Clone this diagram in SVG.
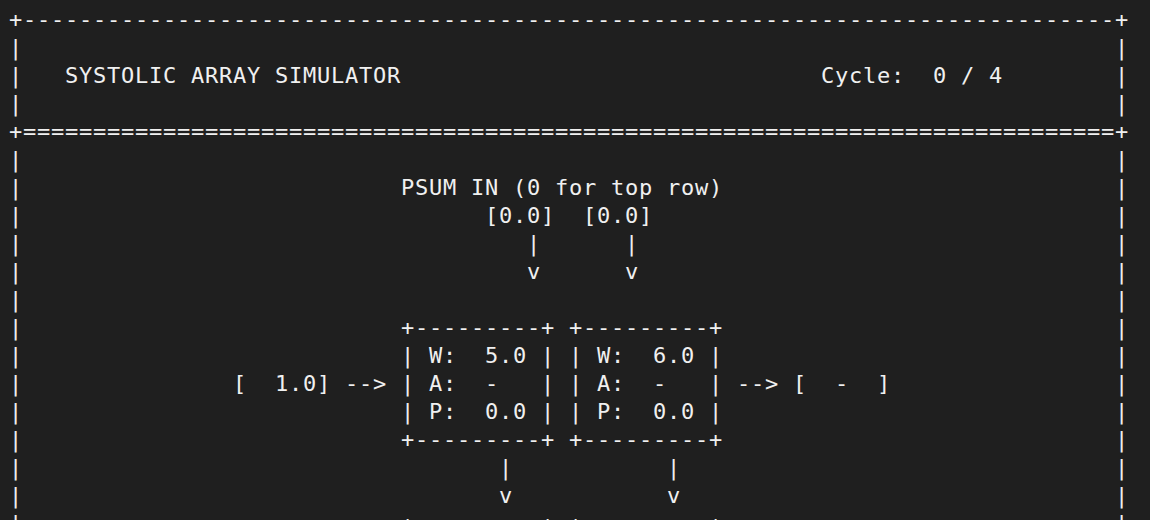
<svg xmlns="http://www.w3.org/2000/svg" width="1150" height="520" viewBox="0 0 1150 520">
<style>
text{font-family:"DejaVu Sans Mono","Liberation Mono",monospace;font-size:22px;letter-spacing:0.756px;fill:#f0f0f0;white-space:pre}
</style>
<rect width="1150" height="520" fill="#1f1f1f"/>
<g id="frame" xml:space="preserve">
<text x="9" y="27">+------------------------------------------------------------------------------+</text>
<text x="9" y="139">+==============================================================================+</text>
<text x="9" y="55">|</text><text x="1115" y="55">|</text>
<text x="9" y="83">|</text><text x="1115" y="83">|</text>
<text x="9" y="111">|</text><text x="1115" y="111">|</text>
<text x="9" y="167">|</text><text x="1115" y="167">|</text>
<text x="9" y="195">|</text><text x="1115" y="195">|</text>
<text x="9" y="223">|</text><text x="1115" y="223">|</text>
<text x="9" y="251">|</text><text x="1115" y="251">|</text>
<text x="9" y="279">|</text><text x="1115" y="279">|</text>
<text x="9" y="307">|</text><text x="1115" y="307">|</text>
<text x="9" y="335">|</text><text x="1115" y="335">|</text>
<text x="9" y="363">|</text><text x="1115" y="363">|</text>
<text x="9" y="391">|</text><text x="1115" y="391">|</text>
<text x="9" y="419">|</text><text x="1115" y="419">|</text>
<text x="9" y="447">|</text><text x="1115" y="447">|</text>
<text x="9" y="475">|</text><text x="1115" y="475">|</text>
<text x="9" y="503">|</text><text x="1115" y="503">|</text>
<text x="9" y="531">|</text><text x="1115" y="531">|</text>
</g>
<g id="header" xml:space="preserve">
<text x="65" y="83">SYSTOLIC ARRAY SIMULATOR</text>
<text x="821" y="83">Cycle:  0 / 4</text>
</g>
<g id="psum-in" xml:space="preserve">
<text x="401" y="195">PSUM IN (0 for top row)</text>
<text x="485" y="223">[0.0]</text>
<text x="583" y="223">[0.0]</text>
</g>
<g id="act-in" xml:space="preserve">
<text x="233" y="391">[  1.0]</text>
</g>
<g id="act-out" xml:space="preserve">
<text x="793" y="391">[  -  ]</text>
</g>
<g id="pe-0-0" xml:space="preserve">
<text x="401" y="335">+---------+</text>
<text x="401" y="363">| W:  5.0 |</text>
<text x="401" y="391">| A:  -   |</text>
<text x="401" y="419">| P:  0.0 |</text>
<text x="401" y="447">+---------+</text>
</g>
<g id="pe-0-1" xml:space="preserve">
<text x="569" y="335">+---------+</text>
<text x="569" y="363">| W:  6.0 |</text>
<text x="569" y="391">| A:  -   |</text>
<text x="569" y="419">| P:  0.0 |</text>
<text x="569" y="447">+---------+</text>
</g>
<g id="pe-1-0" xml:space="preserve">
<text x="401" y="531">+---------+</text>
</g>
<g id="pe-1-1" xml:space="preserve">
<text x="569" y="531">+---------+</text>
</g>
<g id="connectors" xml:space="preserve">
<text x="527" y="251">|</text><text x="527" y="279">v</text>
<text x="625" y="251">|</text><text x="625" y="279">v</text>
<text x="345" y="391">--&gt;</text>
<text x="737" y="391">--&gt;</text>
<text x="499" y="475">|</text><text x="499" y="503">v</text>
<text x="667" y="475">|</text><text x="667" y="503">v</text>
</g>
</svg>
